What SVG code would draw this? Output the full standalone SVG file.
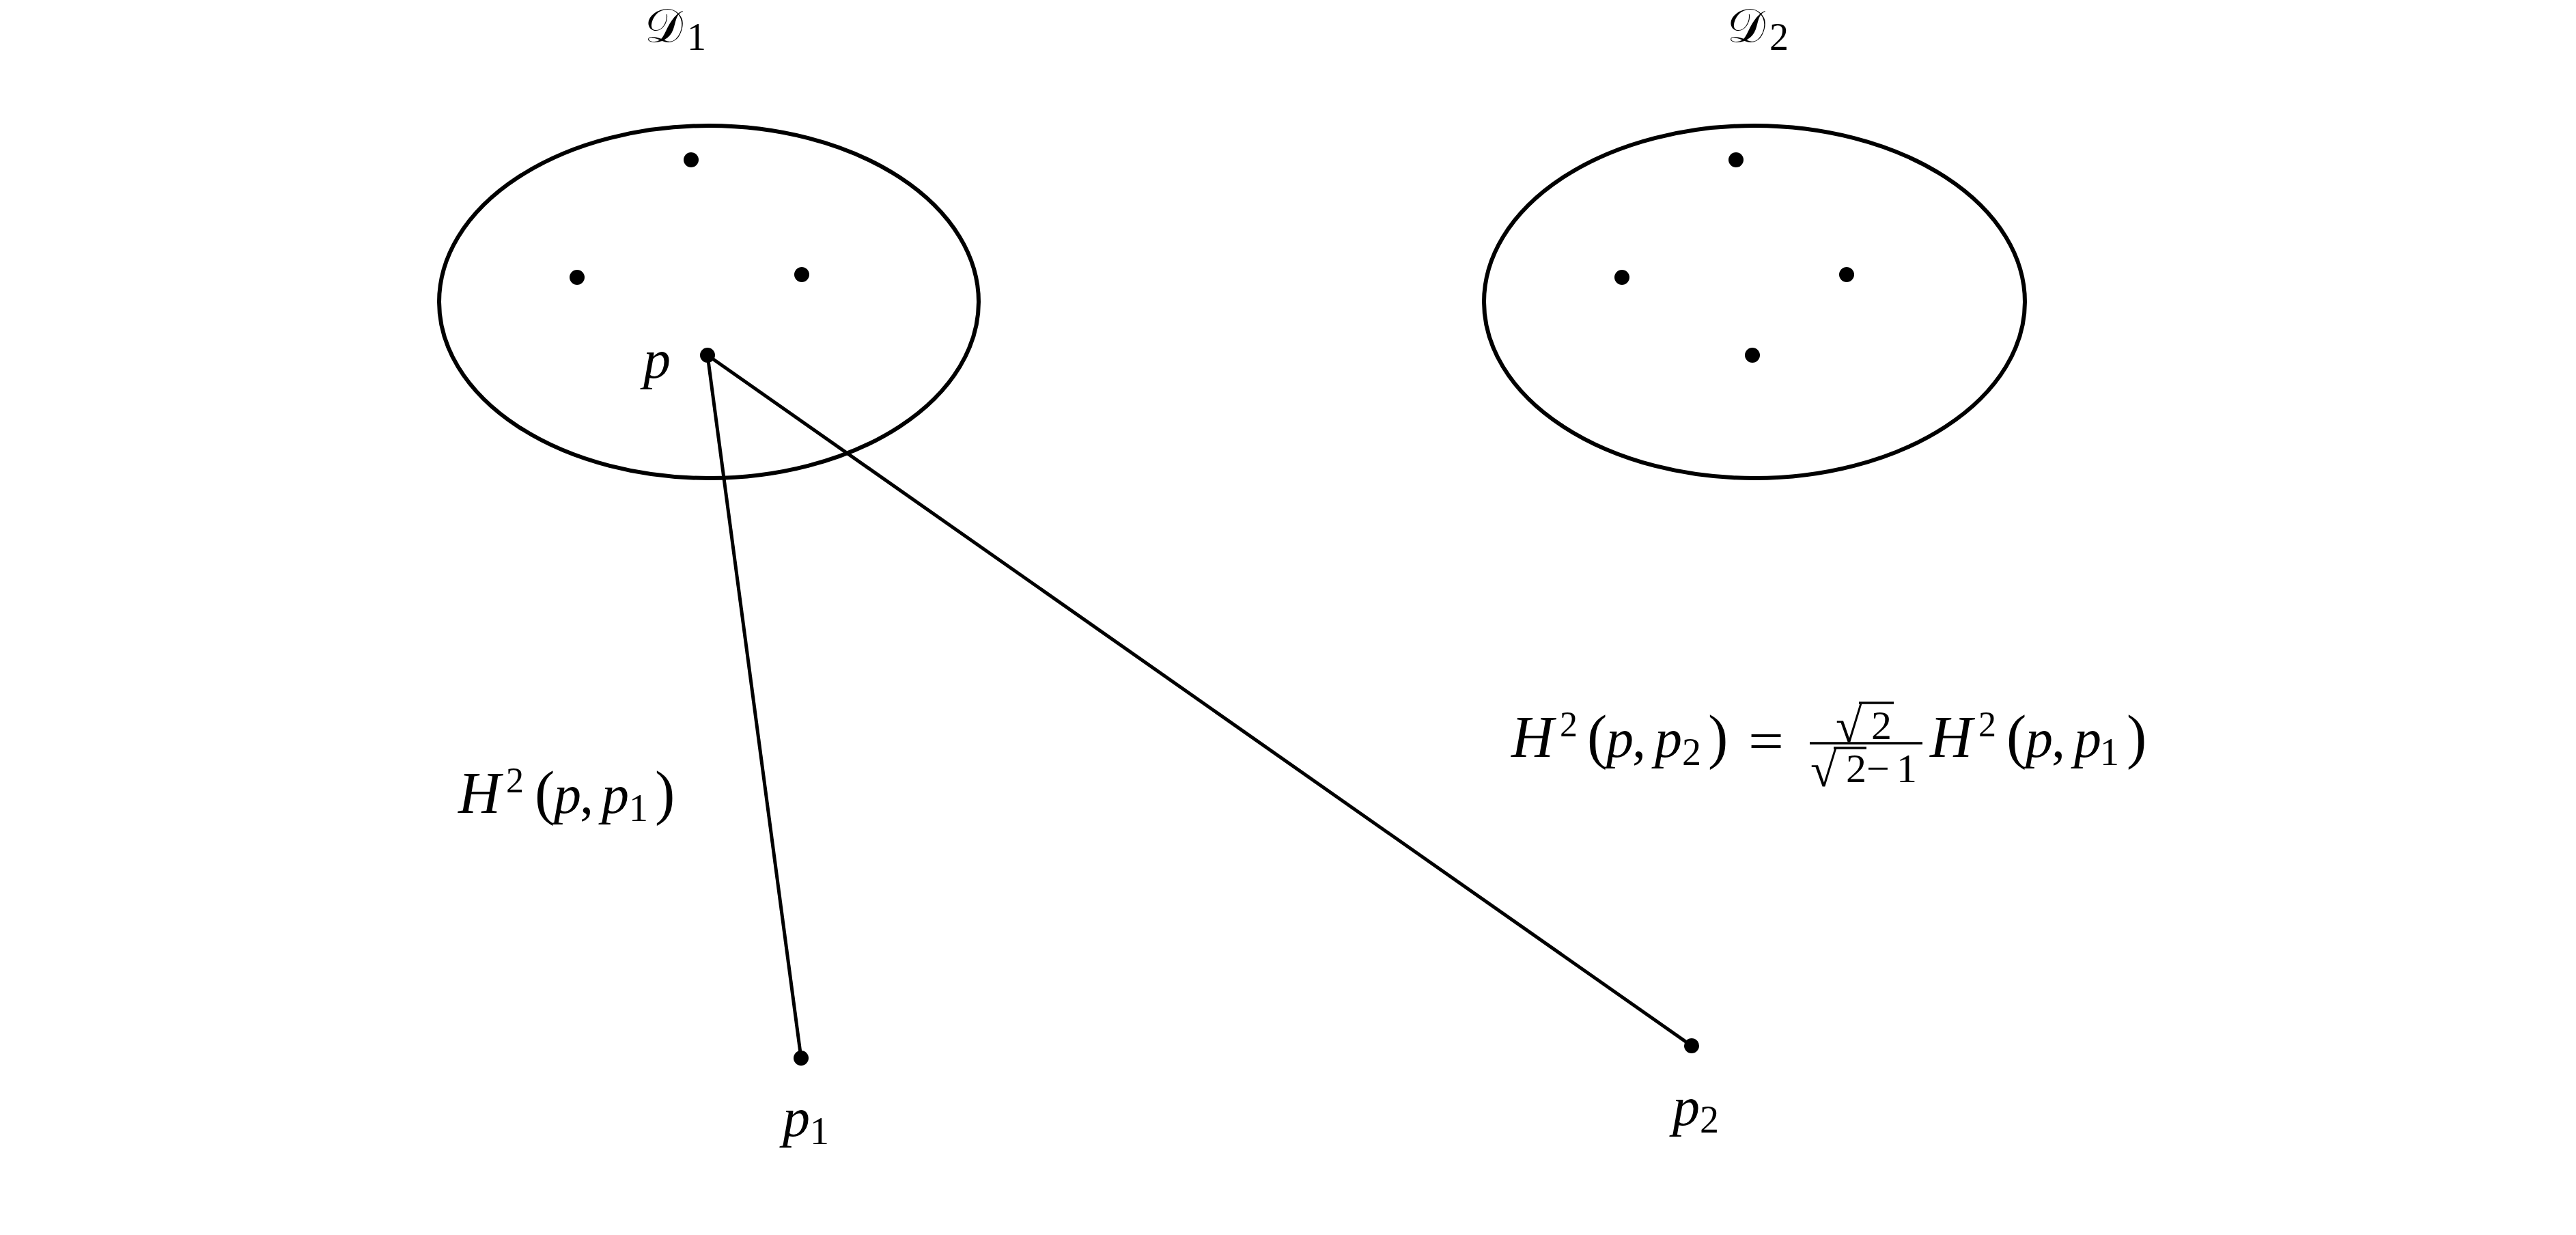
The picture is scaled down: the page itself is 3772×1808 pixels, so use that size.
<svg xmlns="http://www.w3.org/2000/svg" width="3772" height="1808" viewBox="0 0 3772 1808">
<style>
text{font-family:'Liberation Serif','Times New Roman',serif;fill:#000}
.m{font-size:80px}
.h{font-size:86px;font-style:italic}
.pr{font-size:88px}
.s{font-size:56px}
.u{font-size:52px}
.f{font-size:60px}
.r{font-size:70px}
.i{font-style:italic}
.dot{fill:#000}
.set{fill:none;stroke:#000;stroke-width:6}
.edge{stroke:#000;stroke-width:5;fill:none}
.bar{stroke:#000;stroke-width:3.5}
</style>
<rect width="3772" height="1808" fill="#fff"/>
<g id="connectors">
<line class="edge" x1="1036" y1="520" x2="1173" y2="1549"/>
<line class="edge" x1="1036" y1="520" x2="2477" y2="1531"/>
</g>
<g id="D1">
<ellipse class="set" cx="1038" cy="442" rx="395" ry="258"/>
<text font-size="70" x="944" y="62">𝒟</text><text class="s" x="1006" y="73">1</text>
<circle class="dot" cx="1012" cy="234" r="11"/>
<circle class="dot" cx="845" cy="406" r="11"/>
<circle class="dot" cx="1174" cy="402" r="11"/>
</g>
<g id="p">
<circle class="dot" cx="1036" cy="520" r="11"/>
<text class="m i" x="942" y="553">p</text>
</g>
<g id="D2">
<ellipse class="set" cx="2569" cy="442" rx="396" ry="258"/>
<text font-size="70" x="2529" y="62">𝒟</text><text class="s" x="2591" y="73">2</text>
<circle class="dot" cx="2542" cy="234" r="11"/>
<circle class="dot" cx="2375" cy="406" r="11"/>
<circle class="dot" cx="2704" cy="402" r="11"/>
<circle class="dot" cx="2566" cy="520" r="11"/>
</g>
<g id="p1">
<circle class="dot" cx="1173" cy="1549" r="11"/>
<text class="m i" x="1146" y="1663">p</text><text class="s" x="1186" y="1675">1</text>
</g>
<g id="p2">
<circle class="dot" cx="2477" cy="1531" r="11"/>
<text class="m i" x="2449" y="1647">p</text><text class="s" x="2489" y="1658">2</text>
</g>
<g id="label-left">
<text class="m"><tspan class="h" x="671" y="1190">H</tspan><tspan class="u" x="741" y="1160">2</tspan><tspan class="pr" x="783" y="1190">(</tspan><tspan class="i" x="811" y="1190">p</tspan><tspan x="849" y="1190">,</tspan><tspan class="i" x="881" y="1190">p</tspan><tspan class="s" x="921" y="1202">1</tspan><tspan class="pr" x="959" y="1190">)</tspan></text>
</g>
<g id="label-right">
<text class="m"><tspan class="h" x="2213" y="1108">H</tspan><tspan class="u" x="2284" y="1078">2</tspan><tspan class="pr" x="2324" y="1108">(</tspan><tspan class="i" x="2352" y="1108">p</tspan><tspan x="2390" y="1108">,</tspan><tspan class="i" x="2423" y="1108">p</tspan><tspan class="s" x="2463" y="1120">2</tspan><tspan class="pr" x="2501" y="1108">)</tspan></text>
<text class="m" x="2560" y="1112" textLength="52" lengthAdjust="spacingAndGlyphs">=</text>
<text><tspan class="r" x="2688" y="1086">√</tspan><tspan class="f" x="2740" y="1082">2</tspan></text>
<line class="bar" x1="2722" y1="1029" x2="2773" y2="1029"/>
<line class="bar" x1="2650" y1="1088" x2="2815" y2="1088"/>
<text><tspan class="r" x="2651" y="1151">√</tspan><tspan class="f" x="2703" y="1145">2</tspan><tspan class="f" x="2733" y="1145">−</tspan><tspan class="f" x="2777" y="1145">1</tspan></text>
<line class="bar" x1="2685" y1="1095" x2="2733" y2="1095"/>
<text class="m"><tspan class="h" x="2826" y="1108">H</tspan><tspan class="u" x="2897" y="1078">2</tspan><tspan class="pr" x="2938" y="1108">(</tspan><tspan class="i" x="2966" y="1108">p</tspan><tspan x="3004" y="1108">,</tspan><tspan class="i" x="3037" y="1108">p</tspan><tspan class="s" x="3075" y="1120">1</tspan><tspan class="pr" x="3114" y="1108">)</tspan></text>
</g>
</svg>
